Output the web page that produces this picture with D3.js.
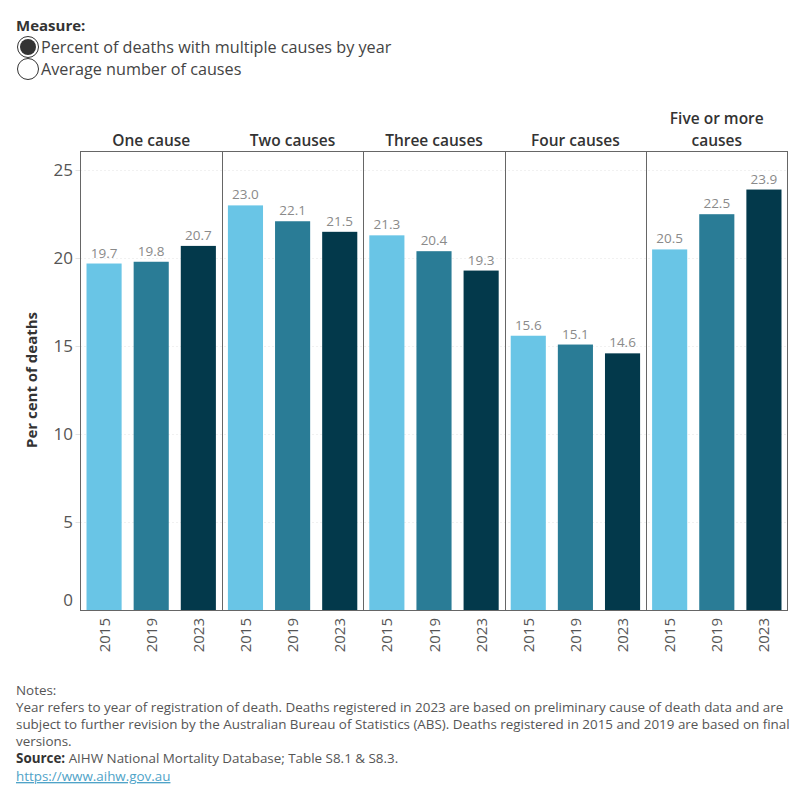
<!DOCTYPE html>
<html><head><meta charset="utf-8">
<script src="https://cdn.jsdelivr.net/npm/d3@7"></script>
<style>body{margin:0;background:#fff;} svg{display:block;}</style>
</head><body>
<svg id="c" width="800" height="800"></svg>
<script>
const categories = ["One cause","Two causes","Three causes","Four causes","Five or more causes"];
const years = ["2015","2019","2023"];
const values2015 = [19.7, 23.0, 21.3, 15.6, 20.5];
const values2019 = [19.8, 22.1, 20.4, 15.1, 22.5];
const values2023 = [20.7, 21.5, 19.3, 14.6, 23.9];
const yTicks = [0,5,10,15,20,25];
const colors = ["#69c5e6","#2a7c96","#03394b"];
const headerLines = [["One cause"],["Two causes"],["Three causes"],["Four causes"],["Five or more","causes"]];

const series = [values2015, values2019, values2023];
const svg = d3.select("#c");
const font = "'Open Sans', sans-serif";

// Measure control
svg.append("text").attr("x",16).attr("y",31).attr("font-family",font).attr("font-weight",700)
  .attr("font-size",15).attr("fill","#333").text("Measure:");
const opts = ["Percent of deaths with multiple causes by year","Average number of causes"];
opts.forEach((t,i)=>{
  const cy = 47 + i*22;
  svg.append("circle").attr("cx",28).attr("cy",cy).attr("r",10.5).attr("fill","#fff").attr("stroke","#333").attr("stroke-width",1);
  if(i===0) svg.append("circle").attr("cx",28).attr("cy",cy).attr("r",8).attr("fill","#333");
  svg.append("text").attr("x",41).attr("y",cy+5.5).attr("font-family",font).attr("font-size",16.2).attr("fill","#444").text(t);
});

const pLeft = 80.5, pRight = 787.5, pTop = 151.5, pBottom = 610.5;
const x0 = d3.scaleBand().domain(categories).range([pLeft,pRight]).padding(0);
const x1 = d3.scaleBand().domain(years).range([0,x0.bandwidth()]).paddingInner(0.255).paddingOuter(0.1275);
const y = d3.scaleLinear().domain([0,26.06]).range([pBottom,pTop]);
const colorScale = d3.scaleOrdinal().domain(years).range(colors);

// gridlines
const grid = svg.append("g");
yTicks.filter(t=>t>0).forEach(t=>{
  grid.append("line").attr("x1",pLeft).attr("x2",pRight).attr("y1",Math.round(y(t))+0.5).attr("y2",Math.round(y(t))+0.5)
   .attr("stroke","#e2e2e2").attr("stroke-dasharray","1,3");
  grid.append("line").attr("x1",pLeft-5).attr("x2",pLeft).attr("y1",Math.round(y(t))+0.5).attr("y2",Math.round(y(t))+0.5)
   .attr("stroke","#e2e2e2");
});

// bars
categories.forEach((c,ci)=>{
  const g = svg.append("g").attr("transform",`translate(${x0(c)},0)`);
  years.forEach((yr,yi)=>{
    const v = series[yi][ci];
    g.append("rect").attr("x",x1(yr)).attr("y",y(v)).attr("width",x1.bandwidth()).attr("height",pBottom-y(v))
     .attr("fill",colorScale(yr));
    g.append("text").attr("x",x1(yr)+x1.bandwidth()/2).attr("y",y(v)-6).attr("text-anchor","middle")
     .attr("font-family",font).attr("font-size",13.5).attr("fill","#8a8a8a").text(v.toFixed(1));
    g.append("text").attr("transform",`translate(${x1(yr)+x1.bandwidth()/2+5.5},618) rotate(-90)`)
     .attr("text-anchor","end").attr("font-family",font).attr("font-size",15).attr("fill","#555").text(yr);
  });
  const lines = headerLines[ci];
  lines.forEach((l,li)=>{
    svg.append("text").attr("x",x0(c)+x0.bandwidth()/2).attr("y",146 - (lines.length-1-li)*22)
      .attr("text-anchor","middle").attr("font-family",font).attr("font-weight",600).attr("font-size",15.5)
      .attr("fill","#333").text(l);
  });
});

// frame
const frame = svg.append("g").attr("stroke","#666").attr("stroke-width",1).attr("fill","none");
frame.append("rect").attr("x",pLeft).attr("y",pTop).attr("width",pRight-pLeft).attr("height",pBottom-pTop);
categories.slice(1).forEach(c=>{
  frame.append("line").attr("x1",Math.round(x0(c))+0.5).attr("x2",Math.round(x0(c))+0.5).attr("y1",pTop).attr("y2",pBottom);
});

// y tick labels
yTicks.forEach(t=>{
  svg.append("text").attr("x",73).attr("y",t===0? y(t)-5 : y(t)+6).attr("text-anchor","end")
    .attr("font-family",font).attr("font-size",17).attr("fill","#555").text(t);
});
svg.append("text").attr("transform","translate(37,380) rotate(-90)").attr("text-anchor","middle")
  .attr("font-family",font).attr("font-weight",700).attr("font-size",15).attr("fill","#333").text("Per cent of deaths");

// notes
const nf = "'Open Sans', sans-serif";
const nfs = 13.4;
const notes = [
  {y:695, t:"Notes:"},
  {y:712, t:"Year refers to year of registration of death. Deaths registered in 2023 are based on preliminary cause of death data and are"},
  {y:729, t:"subject to further revision by the Australian Bureau of Statistics (ABS). Deaths registered in 2015 and 2019 are based on final"},
  {y:746, t:"versions."}
];
notes.forEach(n=>{
  svg.append("text").attr("x",16).attr("y",n.y).attr("font-family",nf).attr("font-size",nfs).attr("fill","#555").text(n.t);
});
const src = svg.append("text").attr("x",16).attr("y",763).attr("font-family",nf).attr("font-size",nfs).attr("fill","#555");
src.append("tspan").attr("font-weight",700).attr("fill","#333").text("Source:");
src.append("tspan").text(" AIHW National Mortality Database; Table S8.1 & S8.3.");
svg.append("text").attr("x",16).attr("y",781).attr("font-family",nf).attr("font-size",nfs).attr("fill","#4fa3c8")
  .attr("text-decoration","underline").text("https://www.aihw.gov.au");
</script>
</body></html>
